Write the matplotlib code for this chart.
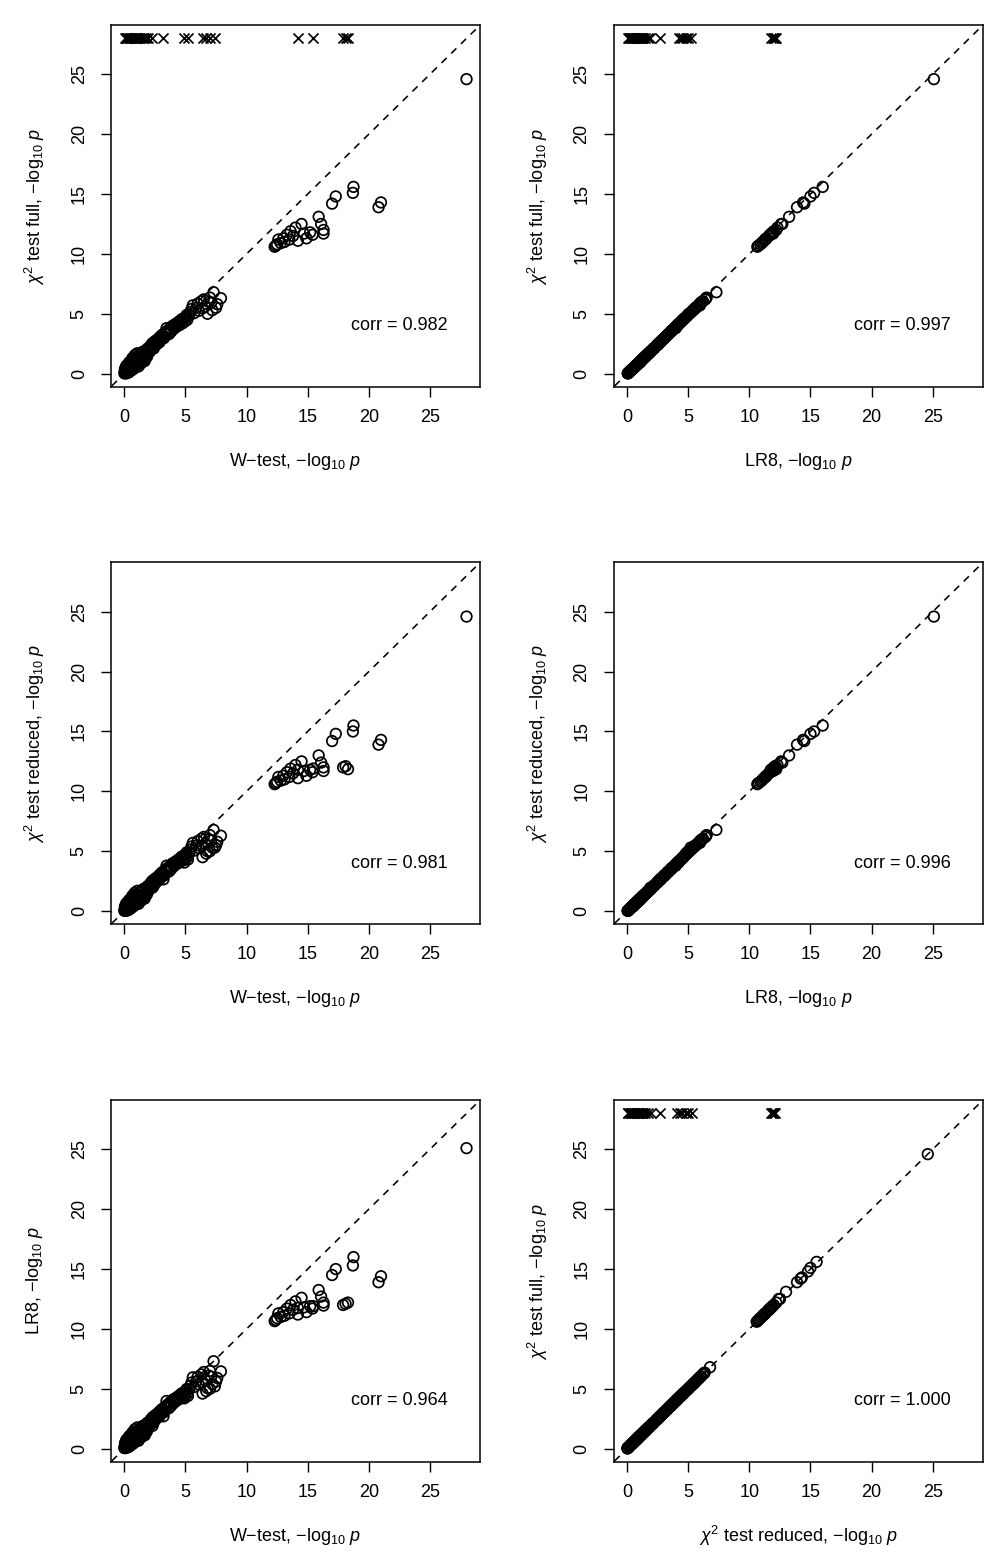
import numpy as np
import matplotlib
matplotlib.use('Agg')
import matplotlib.pyplot as plt

plt.rcParams['font.family'] = ['Liberation Sans', 'DejaVu Sans']
plt.rcParams['mathtext.fontset'] = 'custom'
plt.rcParams['mathtext.rm'] = 'Liberation Sans'
plt.rcParams['mathtext.it'] = 'Liberation Sans:italic'
plt.rcParams['mathtext.bf'] = 'Liberation Sans:bold'

inf = np.inf

# -log10 p per SNP, same order in every list
w_test = [
    # low band
    0.00, 0.03, 0.06, 0.10, 0.12, 0.15, 0.20, 0.22, 0.25, 0.30,
    0.33, 0.38, 0.40, 0.45, 0.50, 0.52, 0.58, 0.62, 0.68, 0.72,
    0.78, 0.82, 0.88, 0.92, 0.98, 1.02, 1.08, 1.12, 1.18, 1.25,
    1.30, 1.38, 1.42, 1.50, 1.55, 1.62, 1.70, 1.78, 1.85, 1.95,
    # middle band
    2.00, 2.05, 2.15, 2.20, 2.30, 2.35, 2.45, 2.55, 2.60, 2.70,
    2.80, 2.90, 2.95, 3.05, 3.15, 3.25, 3.35, 3.45, 3.55, 3.65,
    3.75, 3.85, 3.95, 4.05, 4.15, 4.25, 4.40, 4.50, 4.60, 4.75,
    4.85, 4.95, 5.05, 5.15, 5.30,
    # upper band
    5.40, 5.50, 5.60, 5.70, 5.90, 6.00, 6.10, 6.30, 6.40, 6.50,
    6.60, 6.80, 6.90, 7.00, 7.10, 7.20, 7.30, 7.50, 7.60, 7.90,
    # more band
    0.05, 0.14, 0.28, 0.36, 0.48, 0.56, 0.66, 0.76, 0.86, 0.96,
    1.06, 1.16, 1.22, 1.35, 1.46, 1.58, 1.66, 1.74, 1.90, 2.10,
    2.25, 2.40, 2.50, 2.65, 2.75, 2.85, 3.00, 3.10, 3.20, 3.40,
    3.50, 3.70, 3.80, 4.00, 4.20, 4.35, 4.55, 4.70, 4.90, 5.10,
    # high cluster
    12.3, 12.4, 12.5, 12.6, 12.8, 13.0, 13.1, 13.3, 13.5, 13.6,
    13.8, 14.0, 14.2, 14.5, 14.7, 14.9, 15.2, 15.4, 15.9, 16.1,
    16.3, 16.3, 17.0, 17.3, 18.7, 18.75, 20.8, 21.0,
    28.0,
    # full test failed (infinite)
    0.02, 0.10, 0.18, 0.25, 0.35, 0.45, 0.55, 0.65, 0.75, 0.85,
    0.95, 1.05, 1.15, 1.30, 1.45, 1.60, 1.75, 1.95,
    2.30, 3.20, 4.90, 5.20, 6.40, 6.70, 7.00, 7.40,
    14.2, 15.45, 17.9, 18.1, 18.3,
]

lr8 = [
    0.05, 0.22, 0.12, 0.50, 0.18, 0.72, 0.33, 0.10, 0.60, 0.45,
    0.80, 0.25, 1.05, 0.55, 0.40, 0.90, 0.66, 1.15, 0.50, 0.86,
    1.30, 0.76, 1.08, 0.60, 1.45, 0.97, 1.26, 0.80, 1.60, 1.12,
    1.42, 1.76, 1.02, 1.30, 1.92, 1.22, 1.60, 2.02, 1.46, 1.82,
    2.18, 1.88, 2.42, 2.12, 2.62, 2.28, 2.52, 2.82, 2.48, 2.72,
    3.02, 2.78, 3.18, 2.98, 3.28, 3.08, 3.52, 3.98, 3.68, 3.38,
    3.88, 3.62, 4.08, 3.82, 4.18, 3.98, 4.38, 4.14, 4.52, 4.28,
    4.68, 4.44, 4.84, 4.58, 4.94,
    5.25, 5.52, 5.95, 5.15, 5.62, 6.00, 5.35, 6.20, 5.55, 6.40,
    5.72, 5.05, 6.10, 6.50, 6.00, 5.40, 7.30, 5.60, 5.90, 6.45,
    0.46, 0.05, 0.82, 0.14, 0.97, 0.30, 1.36, 0.45, 1.62, 0.81,
    1.77, 0.66, 1.16, 0.92, 1.72, 1.46, 1.11, 1.57, 2.17, 1.97,
    2.47, 2.17, 2.72, 2.57, 2.87, 2.67, 3.12, 3.32, 3.02, 3.37,
    3.62, 3.72, 3.57, 4.02, 4.22, 4.17, 4.43, 4.62, 4.72, 4.98,
    10.65, 10.75, 10.9, 11.3, 11.0, 11.4, 11.1, 11.7, 11.3, 12.0,
    11.6, 12.3, 11.2, 12.6, 11.8, 11.4, 11.9, 11.7, 13.25, 12.7,
    12.2, 11.95, 14.5, 15.0, 15.3, 16.0, 13.9, 14.4,
    25.1,
    0.05, 0.30, 0.12, 0.45, 0.25, 0.60, 0.40, 0.80, 0.55, 0.95,
    0.70, 1.10, 0.90, 1.25, 1.05, 1.45, 1.30, 1.70,
    1.90, 2.70, 4.20, 4.40, 4.60, 4.80, 5.00, 5.20,
    11.75, 11.9, 12.0, 12.1, 12.2,
]

chi2_full = [
    0.02, 0.20, 0.08, 0.45, 0.15, 0.65, 0.30, 0.05, 0.55, 0.40,
    0.75, 0.20, 0.95, 0.50, 0.35, 0.85, 0.60, 1.10, 0.45, 0.80,
    1.25, 0.70, 1.00, 0.55, 1.40, 0.90, 1.20, 0.75, 1.55, 1.05,
    1.35, 1.70, 0.95, 1.25, 1.85, 1.15, 1.55, 1.95, 1.40, 1.75,
    2.10, 1.80, 2.35, 2.05, 2.55, 2.20, 2.45, 2.75, 2.40, 2.65,
    2.95, 2.70, 3.10, 2.90, 3.20, 3.00, 3.45, 3.80, 3.60, 3.30,
    3.80, 3.55, 4.00, 3.75, 4.10, 3.90, 4.30, 4.05, 4.45, 4.20,
    4.60, 4.35, 4.75, 4.50, 4.85,
    5.15, 5.40, 5.70, 5.05, 5.50, 5.85, 5.25, 6.05, 5.45, 6.20,
    5.60, 5.00, 6.00, 6.35, 5.90, 5.30, 6.80, 5.50, 5.80, 6.30,
    0.40, 0.02, 0.75, 0.10, 0.90, 0.25, 1.30, 0.40, 1.55, 0.75,
    1.70, 0.60, 1.10, 0.85, 1.65, 1.40, 1.05, 1.50, 2.10, 1.90,
    2.40, 2.10, 2.65, 2.50, 2.80, 2.60, 3.05, 3.25, 2.95, 3.30,
    3.55, 3.65, 3.50, 3.95, 4.15, 4.10, 4.35, 4.55, 4.65, 4.90,
    10.6, 10.7, 10.8, 11.2, 10.9, 11.3, 11.0, 11.6, 11.2, 11.9,
    11.5, 12.2, 11.1, 12.5, 11.7, 11.3, 11.8, 11.6, 13.1, 12.5,
    12.0, 11.7, 14.2, 14.8, 15.1, 15.6, 13.9, 14.3,
    24.6,
    inf, inf, inf, inf, inf, inf, inf, inf, inf, inf,
    inf, inf, inf, inf, inf, inf, inf, inf,
    inf, inf, inf, inf, inf, inf, inf, inf,
    inf, inf, inf, inf, inf,
]

chi2_reduced = [
    0.02, 0.19, 0.08, 0.44, 0.15, 0.64, 0.30, 0.05, 0.54, 0.40,
    0.74, 0.20, 0.94, 0.50, 0.35, 0.84, 0.60, 1.09, 0.45, 0.80,
    1.24, 0.70, 0.99, 0.55, 1.39, 0.90, 1.19, 0.75, 1.54, 1.05,
    1.34, 1.69, 0.95, 1.24, 1.84, 1.15, 1.54, 1.94, 1.40, 1.74,
    2.09, 1.80, 2.34, 2.05, 2.54, 2.20, 2.44, 2.74, 2.40, 2.64,
    2.94, 2.70, 3.09, 2.90, 3.19, 3.00, 3.44, 3.79, 3.60, 3.30,
    3.79, 3.55, 3.99, 3.75, 4.09, 3.90, 4.29, 4.05, 4.44, 4.20,
    4.59, 4.35, 4.74, 4.50, 4.84,
    5.14, 5.39, 5.69, 5.05, 5.49, 5.84, 5.25, 6.04, 5.45, 6.19,
    5.60, 5.00, 5.99, 6.34, 5.89, 5.30, 6.78, 5.50, 5.79, 6.29,
    0.39, 0.02, 0.74, 0.10, 0.89, 0.25, 1.29, 0.40, 1.54, 0.75,
    1.69, 0.60, 1.09, 0.85, 1.64, 1.40, 1.04, 1.50, 2.09, 1.90,
    2.39, 2.10, 2.64, 2.50, 2.79, 2.60, 3.04, 3.25, 2.94, 3.30,
    3.54, 3.65, 3.49, 3.95, 4.14, 4.10, 4.34, 4.55, 4.64, 4.90,
    10.6, 10.7, 10.8, 11.2, 10.9, 11.3, 11.0, 11.6, 11.2, 11.9,
    11.5, 12.2, 11.1, 12.5, 11.7, 11.3, 11.8, 11.6, 13.0, 12.4,
    12.0, 11.7, 14.2, 14.8, 15.0, 15.5, 13.9, 14.3,
    24.6,
    0.03, 0.28, 0.10, 0.42, 0.22, 0.58, 0.38, 0.78, 0.52, 0.92,
    0.68, 1.08, 0.88, 1.22, 1.02, 1.42, 1.28, 1.68,
    1.95, 2.65, 4.05, 4.30, 4.50, 4.80, 5.00, 5.30,
    11.8, 11.9, 12.0, 12.1, 11.85,
]

corr_text = ['0.982', '0.997', '0.981', '0.996', '0.964', '1.000']

data = {
    'w': np.array(w_test),
    'lr8': np.array(lr8),
    'full': np.array(chi2_full),
    'red': np.array(chi2_reduced),
}
logp = r'$-\mathrm{log}_{10}\ p$'
labels = {
    'w': 'W\u2212test, ' + logp,
    'lr8': 'LR8, ' + logp,
    'full': r'$\chi^2$ test full, ' + logp,
    'red': r'$\chi^2$ test reduced, ' + logp,
}
panels = [('w', 'full'), ('lr8', 'full'),
          ('w', 'red'), ('lr8', 'red'),
          ('w', 'lr8'), ('red', 'full')]

top = 28.0
lim = (-0.04 * top, top * 1.04)
fs = 13

fig = plt.figure(figsize=(10, 15.65), dpi=100)
lefts = [0.1107, 0.6135]
bottoms = [0.7527, 0.4093, 0.0658]
width, height = 0.3695, 0.2313

for i, (xk, yk) in enumerate(panels):
    ax = fig.add_axes([lefts[i % 2], bottoms[i // 2], width, height])
    x = data[xk]
    y = data[yk]
    fin = np.isfinite(y)

    ax.plot([-5, 35], [-5, 35], color='black', lw=1.15,
            linestyle=(0, (4.5, 4)), zorder=1)
    ax.scatter(x[fin], y[fin], s=58, facecolors='none', edgecolors='black',
               linewidths=1.25, zorder=2)
    if (~fin).any():
        ax.scatter(x[~fin], np.full((~fin).sum(), top), marker='x', s=52,
                   c='black', linewidths=1.25, zorder=2)

    ax.set_xlim(lim)
    ax.set_ylim(lim)
    ax.set_xticks(range(0, 26, 5))
    ax.set_yticks(range(0, 26, 5))
    ax.tick_params(direction='out', length=7.5, width=1.0, labelsize=fs, pad=8)
    ax.tick_params(axis='y', labelrotation=90, pad=9)
    for lbl in ax.get_yticklabels():
        lbl.set_va('center')
    for s in ax.spines.values():
        s.set_linewidth(1.1)

    ax.text(22.5, 4.0, 'corr = ' + corr_text[i], ha='center', va='center',
            fontsize=fs)

    ax.set_xlabel(labels[xk], fontsize=fs)
    ax.xaxis.label.set_va('center')
    ax.xaxis.set_label_coords(0.5, -0.205)
    ax.set_ylabel(labels[yk], fontsize=fs)
    ax.yaxis.label.set_va('center')
    ax.yaxis.set_label_coords(-0.205, 0.5)

fig.savefig('out.png', dpi=100)
